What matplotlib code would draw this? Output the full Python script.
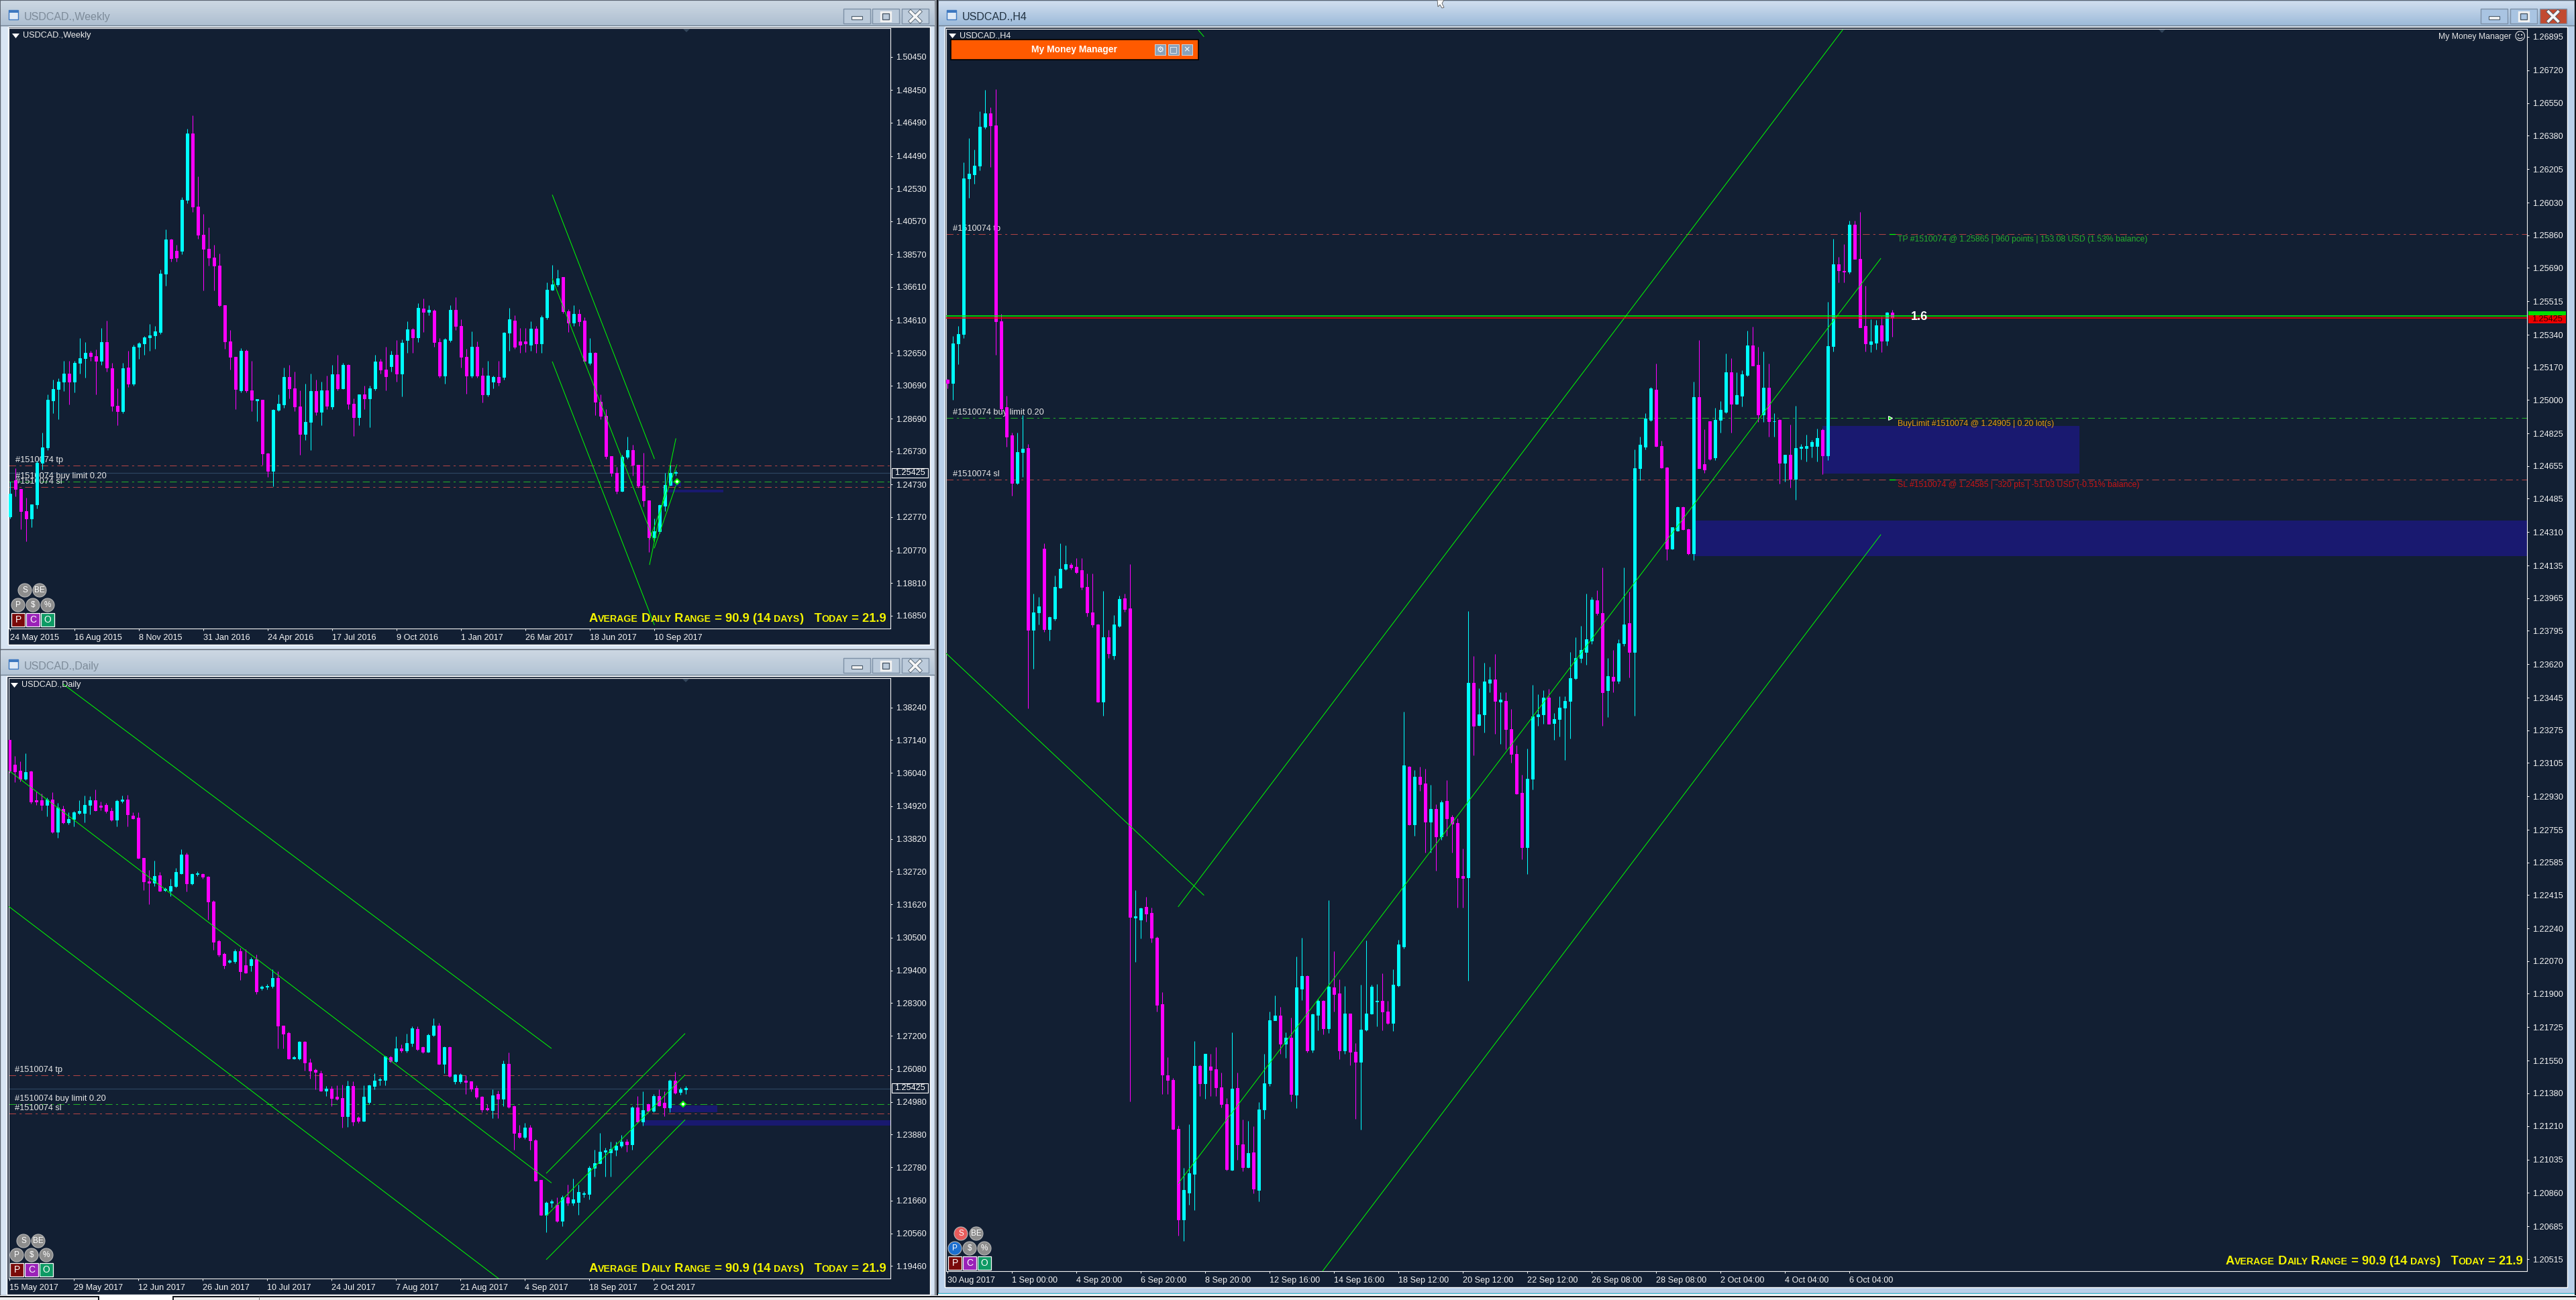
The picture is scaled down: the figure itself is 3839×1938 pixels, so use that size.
import numpy as np
import matplotlib
matplotlib.use("Agg")
import matplotlib.pyplot as plt
from matplotlib.patches import Rectangle, Circle, Polygon

plt.rcParams['font.family'] = ['Liberation Sans', 'DejaVu Sans']

W, H = 3839, 1938
BG = '#121f33'
UP = '#00ffff'
DOWN = '#ff00ff'
PANEL_GREEN = '#00ff00'

# prices of the open order, same on all three charts
TP = 1.25865
BUY = 1.24905
SL = 1.24585
LAST = 1.25427
BID = 1.25439

# H4 candles, in 0.00001
h4_open = [125104,125089,125294,125343,126156,126178,126221,126426,126495,126433,125412,124961,124814,124568,124727,124749,123800,123889,124224,123804,123860,124019,124117,124140,124129,124111,124023,123889,123827,123426,123760,123668,123822,123965,123912,122296,122287,122353,122322,122194,121846,121475,121451,121195,120720,120860,120959,121524,121431,121519,121506,121411,121325,120981,121409,121113,120994,121071,120877,121296,121431,121762,121786,121638,121671,121374,121925,121991,121607,121791,121864,121720,121934,121901,121605,121797,121598,121543,121713,121797,121860,121864,121808,121746,121943,122146,123086,122784,123033,122997,122799,122865,122720,122905,122823,122790,122514,122508,123523,123302,123357,123523,123540,123426,123430,123282,123150,122949,122664,123022,123348,123357,123445,123313,123333,123392,123430,123549,123651,123684,123742,123952,123887,123485,123554,123534,123731,123833,123684,124644,124754,124894,125053,124760,124646,124222,124318,124441,124325,124200,125015,124664,124888,124698,124894,124937,125144,124981,125022,125129,125283,125182,124925,125064,124888,124894,124671,124713,124586,124747,124750,124758,124760,124843,124709,125281,125709,125674,125670,125915,125736,125386,125291,125299,125389,125310,125456]
h4_high = [125110,125334,125385,126239,126366,126305,126506,126618,126529,126623,125450,125022,124830,124830,124921,124770,123988,123972,124251,123870,124084,124251,124240,124150,124173,124173,124095,124095,123830,124001,123800,123876,123979,123988,124144,122441,122350,122406,122349,122200,121907,121570,121460,121212,120992,121219,121654,121530,121585,121585,121620,121490,121355,121698,121490,121245,121237,121210,121334,121585,121808,121890,121830,121698,121775,122095,122194,121996,121797,121875,121868,122389,122124,121974,121940,121797,121643,121947,122177,121947,121952,122007,121864,122029,122181,123373,123090,123066,123086,123073,122989,122889,122911,123015,122834,122817,122658,123898,123662,123496,123629,123607,123673,123474,123474,123386,123198,123044,123181,123512,123463,123485,123492,123364,123452,123452,123684,123760,123822,123990,123972,124007,124126,123651,123695,123749,124126,124000,124742,124809,124932,125066,125189,124787,124650,124336,124445,124445,124330,125095,125312,124845,124890,124959,124993,125242,125216,125144,125155,125363,125381,125278,125252,125189,124932,124900,124713,124872,124970,124770,124820,124790,124850,124850,125513,125841,125747,125814,125937,125937,125982,125595,125421,125418,125436,125459,125470]
h4_low = [125060,125000,125185,125323,126053,126127,126198,126417,126216,125234,124940,124754,124501,124560,124597,123390,123595,123827,123790,123744,123850,124017,124110,124115,124095,124010,123870,123815,123420,123353,123651,123646,123815,123895,121338,122066,122190,122278,122168,121808,121378,121378,121190,120639,120610,120800,120771,121367,121351,121367,121367,121305,120976,120976,121035,120974,120990,120857,120815,121246,121418,121760,121588,121565,121338,121303,121868,121594,121594,121709,121687,121696,121808,121559,121588,121528,121246,121190,121704,121793,121731,121709,121742,121705,121938,122137,122779,122724,122960,122636,122636,122543,122702,122724,122636,122349,122349,121969,123143,123300,123265,123474,123258,123205,123176,123106,122940,122603,122525,122967,123298,123309,123309,123227,123242,123121,123232,123540,123629,123618,123727,123875,123298,123346,123474,123518,123716,123551,123353,124582,124742,124887,124755,124642,124162,124218,124316,124320,124190,124162,124642,124620,124687,124687,124830,124932,124830,124977,124965,125122,125178,124885,124885,124809,124809,124564,124575,124541,124479,124690,124680,124700,124680,124613,124687,125252,125613,125613,125658,125736,125379,125252,125249,125264,125249,125284,125331]
h4_close = [125089,125294,125343,126156,126180,126221,126426,126495,126433,125412,124954,124809,124568,124727,124745,123800,123889,123921,123804,123865,124023,124117,124144,124125,124100,124023,123889,123827,123426,123760,123677,123827,123961,123907,122300,122304,122347,122318,122194,121841,121477,121451,121195,120720,120875,120963,121524,121431,121585,121501,121413,121325,120985,121404,121113,120994,121069,120881,121296,121433,121762,121786,121638,121671,121378,121934,121991,121603,121793,121864,121720,121936,121897,121605,121797,121598,121543,121713,121797,121938,121864,121808,121746,121947,122157,123092,122784,123033,122993,122799,122865,122720,122900,122817,122786,122508,122505,123523,123300,123357,123529,123540,123430,123437,123282,123150,122945,122664,123022,123348,123357,123445,123309,123335,123392,123430,123549,123651,123695,123750,123956,123887,123474,123558,123534,123731,123827,123684,124644,124765,124903,125059,124760,124646,124222,124336,124441,124325,124200,125015,124642,124638,124693,124894,124948,125144,124981,125024,125133,125283,125178,124925,125064,124888,124890,124671,124713,124586,124747,124757,124760,124780,124800,124709,125281,125709,125676,125670,125915,125736,125379,125294,125304,125389,125310,125456,125428]

# weekly candles, in 0.0001
w_open = [12280,12499,12447,12312,12267,12354,12604,12696,12978,13046,13091,13141,13091,13203,13235,13265,13245,13215,13328,13173,12946,12916,13178,13078,13300,13323,13360,13370,13390,13740,13947,13877,13877,14184,14583,14146,13977,13889,13840,13790,13552,13333,13240,13041,13278,13041,12978,12983,12661,12554,12923,12953,13121,13053,12941,12779,12849,13036,12911,13041,12941,13136,13053,13191,12958,12879,13016,12991,13053,13211,13166,13186,13253,13141,13340,13405,13360,13530,13510,13520,13328,13128,13340,13522,13428,13240,13128,13303,13128,13016,13091,13121,13121,13385,13460,13335,13335,13315,13410,13320,13478,13645,13677,13720,13515,13445,13498,13460,13203,13265,12971,12886,12646,12542,12434,12641,12679,12591,12467,12379,12155,12192,12347,12472,12542]
w_high = [12492,12571,12447,12392,12354,12616,12784,13016,13103,13111,13215,13215,13215,13353,13328,13278,13285,13415,13458,13203,13053,13203,13278,13315,13328,13365,13440,13428,13765,14007,13952,13914,14201,14613,14693,14326,14102,14019,13914,13864,13552,13403,13240,13295,13285,13215,12986,12983,12666,12928,13016,13178,13191,13153,13041,13078,13141,13103,13091,13128,13191,13253,13203,13196,12991,13016,13066,13066,13253,13228,13303,13278,13340,13345,13453,13415,13565,13590,13552,13527,13353,13353,13552,13600,13465,13290,13395,13335,13178,13215,13128,13215,13390,13535,13490,13415,13415,13453,13428,13490,13690,13795,13765,13720,13527,13552,13527,13478,13353,13270,13016,12928,12646,12579,12654,12761,12711,12591,12666,12379,12267,12354,12542,12591,12559]
w_low = [12267,12404,12205,12130,12217,12329,12562,12679,12904,12866,13036,12953,13028,13141,13116,13215,13016,13191,13153,12916,12829,12903,13061,13066,13228,13253,13278,13290,13378,13670,13815,13815,13860,14164,14114,13952,13640,13790,13640,13545,13290,13166,12928,13028,13028,12916,12854,12591,12517,12462,12916,12936,12991,12916,12654,12741,12679,12891,12829,12928,12928,13041,13046,12928,12766,12829,12928,12816,13041,13141,13041,13153,13091,13003,13265,13265,13328,13390,13490,13303,13116,13078,13328,13403,13178,13021,13116,13116,12966,13003,13053,13066,13103,13278,13290,13265,13270,13278,13265,13265,13465,13640,13665,13503,13390,13428,13428,13203,13191,12891,12866,12629,12522,12417,12429,12629,12529,12454,12342,12067,12142,12180,12312,12467,12529]
w_close = [12417,12447,12312,12267,12354,12604,12696,12983,13046,13091,13141,13091,13203,13233,13265,13245,13215,13328,13178,12946,12916,13173,13078,13303,13323,13360,13370,13395,13740,13947,13835,13840,14184,14583,14146,13977,13889,13840,13790,13552,13333,13240,13048,13278,13041,12983,12986,12661,12554,12923,12958,13121,13053,12941,12779,12849,13036,12911,13041,12946,13136,13053,13191,12958,12879,13016,12991,13053,13211,13166,13123,13253,13141,13325,13405,13360,13535,13510,13522,13328,13128,13345,13522,13428,13240,13128,13303,13128,13016,13128,13121,13086,13385,13465,13303,13315,13320,13410,13320,13478,13645,13677,13715,13515,13445,13498,13453,13215,13265,12971,12886,12646,12542,12434,12641,12679,12591,12467,12379,12155,12192,12349,12472,12542,12547]

# daily candles, in 0.0001
d_open = [13715,13632,13611,13583,13608,13511,13511,13495,13514,13406,13483,13437,13448,13469,13469,13495,13511,13493,13495,13476,13447,13509,13514,13461,13454,13319,13238,13235,13259,13210,13207,13224,13267,13330,13232,13263,13263,13255,13172,13039,12996,12968,12971,13005,12957,12957,12978,12880,12884,12887,12915,12755,12730,12644,12644,12699,12630,12606,12595,12535,12542,12514,12511,12449,12550,12446,12433,12497,12550,12571,12571,12648,12634,12678,12671,12695,12742,12681,12667,12723,12755,12626,12681,12567,12567,12570,12567,12545,12514,12476,12469,12523,12509,12625,12484,12393,12379,12411,12369,12236,12119,12159,12152,12098,12177,12159,12160,12188,12187,12277,12291,12330,12328,12337,12351,12365,12355,12478,12432,12490,12467,12517,12495,12478,12570,12531,12539]
d_high = [13715,13660,13642,13670,13611,13541,13534,13521,13539,13502,13493,13472,13475,13511,13527,13525,13548,13507,13502,13486,13514,13527,13530,13472,13472,13319,13277,13308,13270,13218,13249,13284,13347,13337,13266,13273,13267,13256,13175,13042,12999,12978,13012,13015,13012,12985,12992,12890,12894,12943,12936,12755,12734,12653,12702,12702,12644,12609,12602,12550,12550,12553,12556,12570,12567,12449,12553,12556,12595,12581,12653,12653,12717,12692,12727,12751,12751,12685,12727,12779,12762,12685,12685,12592,12595,12588,12567,12553,12518,12490,12539,12536,12637,12664,12486,12421,12428,12421,12372,12236,12163,12170,12177,12184,12219,12240,12219,12198,12282,12337,12393,12344,12365,12365,12386,12372,12484,12518,12532,12493,12525,12539,12532,12574,12598,12546,12550]
d_low = [13604,13572,13575,13580,13500,13497,13479,13458,13402,13385,13433,13430,13423,13465,13437,13465,13475,13479,13469,13441,13423,13502,13423,13448,13315,13210,13163,13224,13205,13205,13189,13218,13263,13205,13228,13256,13249,13110,13010,12987,12946,12964,12964,12908,12929,12936,12859,12873,12876,12880,12678,12678,12641,12641,12639,12602,12577,12539,12532,12518,12484,12504,12411,12414,12418,12428,12431,12490,12539,12553,12553,12630,12630,12664,12664,12685,12671,12662,12664,12717,12623,12595,12581,12557,12560,12525,12532,12508,12463,12467,12442,12442,12484,12476,12337,12375,12372,12337,12230,12115,12059,12142,12094,12080,12149,12149,12119,12177,12170,12247,12289,12247,12247,12316,12344,12330,12337,12428,12417,12463,12463,12484,12449,12463,12525,12522,12525]
d_close = [13611,13608,13583,13607,13507,13507,13495,13514,13406,13486,13437,13448,13472,13475,13495,13511,13479,13489,13476,13447,13509,13514,13465,13451,13319,13238,13235,13256,13207,13214,13224,13270,13330,13232,13263,13266,13255,13172,13036,12992,12957,12973,13004,12936,12933,12978,12870,12884,12887,12915,12755,12727,12644,12648,12699,12630,12602,12598,12535,12542,12511,12509,12449,12550,12432,12433,12514,12553,12570,12573,12650,12634,12678,12671,12695,12745,12675,12667,12723,12755,12626,12683,12584,12589,12589,12564,12543,12514,12472,12472,12520,12509,12625,12481,12393,12379,12411,12369,12233,12119,12159,12163,12098,12177,12159,12170,12195,12191,12277,12291,12329,12335,12339,12351,12365,12355,12478,12432,12470,12467,12517,12486,12478,12570,12528,12539,12545]

h4_ticks = [1.26895,1.26720,1.26550,1.26380,1.26205,1.26030,1.25860,1.25690,1.25515,1.25340,1.25170,1.25000,1.24825,1.24655,1.24485,1.24310,1.24135,1.23965,1.23795,1.23620,1.23445,1.23275,1.23105,1.22930,1.22755,1.22585,1.22415,1.22240,1.22070,1.21900,1.21725,1.21550,1.21380,1.21210,1.21035,1.20860,1.20685,1.20515]
w_ticks = [1.50450,1.48450,1.46490,1.44490,1.42530,1.40570,1.38570,1.36610,1.34610,1.32650,1.30690,1.28690,1.26730,1.24730,1.22770,1.20770,1.18810,1.16850]
d_ticks = [1.38240,1.37140,1.36040,1.34920,1.33820,1.32720,1.31620,1.30500,1.29400,1.28300,1.27200,1.26080,1.24980,1.23880,1.22780,1.21660,1.20560,1.19460]

h4_dates = ['30 Aug 2017','1 Sep 00:00','4 Sep 20:00','6 Sep 20:00','8 Sep 20:00','12 Sep 16:00','14 Sep 16:00','18 Sep 12:00','20 Sep 12:00','22 Sep 12:00','26 Sep 08:00','28 Sep 08:00','2 Oct 04:00','4 Oct 04:00','6 Oct 04:00']
w_dates = ['24 May 2015','16 Aug 2015','8 Nov 2015','31 Jan 2016','24 Apr 2016','17 Jul 2016','9 Oct 2016','1 Jan 2017','26 Mar 2017','18 Jun 2017','10 Sep 2017']
d_dates = ['15 May 2017','29 May 2017','12 Jun 2017','26 Jun 2017','10 Jul 2017','24 Jul 2017','7 Aug 2017','21 Aug 2017','4 Sep 2017','18 Sep 2017','2 Oct 2017']

# trend lines: bar index, price
h4_lines = [((43.05,1.22355),(166.8,1.26931)),((43.05,1.20910),(173.9,1.25738)),((69.9,1.20451),(173.9,1.24296)),((-0.2,1.23677),(47.8,1.22415)),((46.8,1.26930),(47.8,1.26897))]
w_lines = [((101,1.4214),(120,1.2629)),((101,1.3710),(120,1.2130)),((101,1.3211),(120,1.1630)),((119.1,1.1992),(124,1.2749)),((119.1,1.2142),(124.2,1.2591)),((120,1.2092),(124,1.2467))]
d_lines = [((9.93,1.3903),(100.9,1.2678)),((-0.1,1.3611),(100.9,1.2226)),((-0.1,1.3154),(91.07,1.1904)),((100,1.2258),(125.8,1.2727)),((100,1.2115),(125.8,1.2588)),((100,1.1968),(125.8,1.2437))]

fig = plt.figure(figsize=(W/100, H/100), dpi=100, facecolor='#b9cfe9')


def px_axes(l, t, r, b, z):
    return fig.add_axes([l/W, 1-b/H, (r-l)/W, (b-t)/H], zorder=z)


bg = px_axes(0, 0, W, H, 0)
top = px_axes(0, 0, W, H, 5)
top.patch.set_alpha(0)
for a in (bg, top):
    a.axis('off')


def gradient(x0, y0, x1, y1, c0, c1):
    c0 = np.array(matplotlib.colors.to_rgb(c0))
    c1 = np.array(matplotlib.colors.to_rgb(c1))
    t = np.linspace(0, 1, 32)[:, None, None]
    img = c0*(1-t) + c1*t
    bg.imshow(img, extent=[x0, x1, y1, y0], aspect='auto', zorder=1)


def window(x0, y0, x1, y1, title, title_col, grad, frame, btn_x, btn_col, px0, py0, px1, py1):
    bg.add_patch(Rectangle((x0, y0), x1-x0, y1-y0, fc=frame, ec='#5c6470', lw=1, zorder=0.5))
    gradient(x0+1, y0+2, x1-1, py0-2, grad[0], grad[1])
    bg.plot([x0+1, x1-1], [py0-2, py0-2], color='#6f7f90', lw=1, zorder=1.5)
    bg.add_patch(Rectangle((px0, py0), px1-px0, py1-py0, fc=BG, ec='white', lw=1, zorder=2))
    bg.text(x0+36, y0+25, title, color=title_col, fontsize=11.5, va='center', zorder=3)
    # little icon
    bg.add_patch(Rectangle((x0+13, y0+15), 14, 14, fc='#dfeaf6', ec='#3d78c0', lw=1, zorder=3))
    bg.add_patch(Rectangle((x0+13, y0+15), 14, 4, fc='#3d78c0', ec='none', zorder=3))
    for i, bx in enumerate(btn_x):
        bg.add_patch(Rectangle((bx, y0+13), 40, 22, fc=btn_col[i], ec='#7d90a6', lw=1, zorder=3))
        cx, cy = bx+20, y0+24.5
        if i == 0:
            bg.add_patch(Rectangle((cx-8, cy-1), 16, 5, fc='#f2f2f2', ec='#4a5a6a', lw=0.8, zorder=4))
        elif i == 1:
            bg.add_patch(Rectangle((cx-7, cy-7), 14, 13, fc='none', ec='#f2f2f2', lw=2.4, zorder=4))
            bg.add_patch(Rectangle((cx-5, cy-5), 10, 9, fc='none', ec='#4a5a6a', lw=1, zorder=4.5))
        else:
            bg.plot([cx-7, cx+7], [cy-7, cy+7], color='#4a5a6a', lw=4, zorder=4)
            bg.plot([cx-7, cx+7], [cy+7, cy-7], color='#4a5a6a', lw=4, zorder=4)
            bg.plot([cx-7, cx+7], [cy-7, cy+7], color='#f6f6f6', lw=2.8, zorder=4.5)
            bg.plot([cx-7, cx+7], [cy+7, cy-7], color='#f6f6f6', lw=2.8, zorder=4.5)


GRAY_BTN = ('#bccbdb', '#bccbdb', '#bccbdb')
BLUE_BTN = ('#a9c4e2', '#a9c4e2', '#c24a30')
window(0, 0, 1393, 968, 'USDCAD.,Weekly', '#7d8b99', ('#ccd7e2', '#aebfd1'), '#d8e5f3', (1257, 1300, 1344), GRAY_BTN, 12, 40, 1386, 961)
window(0, 968, 1393, 1931, 'USDCAD.,Daily', '#7d8b99', ('#ccd7e2', '#b3c4d5'), '#d8e5f3', (1257, 1300, 1344), GRAY_BTN, 10, 1008, 1386, 1930)
window(1398, 0, 3837, 1928, 'USDCAD.,H4', '#20303f', ('#cfdeee', '#9dbada'), '#b9d0ea', (3697, 3741, 3785), BLUE_BTN, 1408, 40, 3826, 1919)

# dark gap between the windows
bg.add_patch(Rectangle((1393, 0), 3, 1932, fc='#8a9098', ec='none', zorder=3))
bg.add_patch(Rectangle((1396, 0), 2, 1932, fc='#10141a', ec='none', zorder=3))
bg.add_patch(Rectangle((3837, 0), 2, 1932, fc='#10141a', ec='none', zorder=3))
# tabs along the bottom
bg.add_patch(Rectangle((0, 1931), W, 7, fc='#efefef', ec='none', zorder=3))
bg.add_patch(Rectangle((1398, 1928), 2439, 1, fc='#35c0d8', ec='none', zorder=3))
bg.add_patch(Rectangle((1398, 1929), 2439, 2.5, fc='#f6f6f6', ec='none', zorder=3))
bg.add_patch(Rectangle((0, 1932), W, 1.5, fc='#10141a', ec='none', zorder=3.5))
bg.add_patch(Rectangle((147, 1931), 110, 7, fc='#ffffff', ec='none', zorder=3.6))
bg.add_patch(Rectangle((146, 1932), 1.5, 6, fc='#10141a', ec='none', zorder=3.7))
bg.add_patch(Rectangle((257, 1932), 1.5, 6, fc='#10141a', ec='none', zorder=3.7))
bg.add_patch(Rectangle((386, 1933), 1, 5, fc='#777777', ec='none', zorder=3.7))


def chart(box, x0, ylim, o, h, l, c, scale, ticks, dates, lines, zorder=1):
    left, top_y, right, bottom = box
    ax = px_axes(left, top_y, right, bottom, zorder)
    ax.set_facecolor(BG)
    o, h, l, c = [np.array(v)/scale for v in (o, h, l, c)]
    x = np.arange(len(o))
    up = c >= o
    cols = np.where(up, UP, DOWN)
    ax.vlines(x, l, h, colors=cols, lw=0.75, zorder=3)
    ax.bar(x, np.abs(c-o), bottom=np.minimum(o, c), width=0.5, color=cols, edgecolor=cols, lw=0.7, zorder=4)
    for (a, b) in lines:
        ax.plot([a[0], b[0]], [a[1], b[1]], color=PANEL_GREEN, lw=0.72, zorder=5)
    ax.set_xlim((left-x0)/8, (right-x0)/8)
    ax.set_ylim(*ylim)
    ax.yaxis.tick_right()
    ax.set_yticks(ticks)
    ax.set_yticklabels([f'{v:.5f}' for v in ticks])
    ax.set_xticks(np.arange(len(dates))*12)
    ax.set_xticklabels(dates, ha='left')
    ax.tick_params(colors='#f4f4f4', labelsize=9.1, length=2.5, width=0.75, pad=3)
    for s in ax.spines.values():
        s.set_color('#f4f4f4')
        s.set_linewidth(0.8)
    return ax


# Weekly
w_ax = chart((13, 42, 1327, 937), 15.2, (1.16073, 1.52177), w_open, w_high, w_low, w_close, 1e4, w_ticks, w_dates, w_lines)
# Daily
d_ax = chart((12.5, 1011, 1327, 1906), 14.3, (1.19038, 1.39223), d_open, d_high, d_low, d_close, 1e4, d_ticks, d_dates, d_lines)
# H4
h_ax = chart((1410, 43, 3766, 1895), 1411.6, (1.20452, 1.26937), h4_open, h4_high, h4_low, h4_close, 1e5, h4_ticks, h4_dates, h4_lines)

DASH = (0, (10, 5, 3, 5))
NAVY_RECT = '#191970'
RED_LINE = '#b04444'
GREEN_LINE = '#22b02a'

for ax, last_col in ((w_ax, '#2c4560'), (d_ax, '#2c4560'), (h_ax, None)):
    ax.axhline(TP, color=RED_LINE, lw=0.75, ls=DASH, zorder=2)
    ax.axhline(BUY, color=GREEN_LINE, lw=0.75, ls=DASH, zorder=2)
    ax.axhline(SL, color=RED_LINE, lw=0.75, ls=DASH, zorder=2)
    if last_col:
        ax.axhline(LAST, color=last_col, lw=0.9, zorder=2)

# order boxes
h_ax.add_patch(Rectangle((163, 1.24615), 47.9, 1.24863-1.24615, fc=NAVY_RECT, ec='none', zorder=1))
h_ax.add_patch(Rectangle((139, 1.24186), 300, 1.24369-1.24186, fc=NAVY_RECT, ec='none', zorder=1))
w_ax.add_patch(Rectangle((122.5, 1.2425), 10.4, 0.0017, fc=NAVY_RECT, ec='none', zorder=1))
w_ax.add_patch(Rectangle((123, 1.2462), 2, 0.0024, fc=NAVY_RECT, ec='none', zorder=1))
d_ax.add_patch(Rectangle((123, 1.2463), 8.8, 0.0023, fc=NAVY_RECT, ec='none', zorder=1))
d_ax.add_patch(Rectangle((118.2, 1.2419), 60, 0.0018, fc=NAVY_RECT, ec='none', zorder=1))

h_ax.axhline(BID, color='#00ff00', lw=1.1, zorder=6)
h_ax.axhline(LAST, color='#ff0000', lw=1.1, zorder=6)

LBL = '#e6e6e6'
# labels over the order lines
for ax, off in ((h_ax, 0.00007), (w_ax, 0.0009), (d_ax, 0.0005)):
    ax.text(1, TP+off, '#1510074 tp', color=LBL, fontsize=9.2, zorder=2, va='bottom')
    ax.text(1, BUY+off, '#1510074 buy limit 0.20', color=LBL, fontsize=9.2, zorder=2, va='bottom')
    ax.text(1, SL+off, '#1510074 sl', color=LBL, fontsize=9.2, zorder=2, va='bottom')

h_ax.text(177.0, TP-0.00008, 'TP #1510074 @ 1.25865 | 960 points | 153.08 USD (1.53% balance)', color='#27b02c', fontsize=8.8, va='top', zorder=7)
h_ax.text(177.0, BUY-0.00008, 'BuyLimit #1510074 @ 1.24905 | 0.20 lot(s)', color='#e89a10', fontsize=8.8, va='top', zorder=7)
h_ax.text(177.0, SL-0.00008, 'SL #1510074 @ 1.24585 | -320 pts | -51.03 USD (-0.51% balance)', color='#cc1414', fontsize=8.8, va='top', zorder=7)
h_ax.text(179.5, 1.25432, '1.6', color='white', fontsize=13, fontweight='bold', va='center', zorder=7)
h_ax.plot([175.7], [BUY], marker='>', ms=5, mfc='#00ff00', mec='white', mew=0.8, zorder=7)
h_ax.plot([175.6, 176.5], [TP, TP], color=PANEL_GREEN, lw=0.9, zorder=7)
h_ax.plot([175.6, 176.5], [SL, SL], color=PANEL_GREEN, lw=0.9, zorder=7)
w_ax.plot([124.2], [BUY], marker='D', ms=4, mfc='white', mec=PANEL_GREEN, mew=1.4, zorder=7)
d_ax.plot([125.5], [BUY], marker='D', ms=4, mfc='white', mec=PANEL_GREEN, mew=1.4, zorder=7)


def pane_title(x, y, name):
    top.add_patch(Polygon([[x, y-3], [x+11, y-3], [x+5.5, y+4]], fc='white', ec='none'))
    top.text(x+16, y, name, color='#eeeeee', fontsize=9.1, va='center')


pane_title(18, 53, 'USDCAD.,Weekly')
pane_title(16, 1021, 'USDCAD.,Daily')
pane_title(1414, 53, 'USDCAD.,H4')

# last price boxes on the axis
top.add_patch(Rectangle((1329, 697.5), 54, 14, fc=BG, ec='white', lw=0.8, zorder=2))
top.text(1356, 704.5, '1.25425', color='white', fontsize=9.1, ha='center', va='center', zorder=3)
top.add_patch(Rectangle((1329, 1615), 54, 14, fc=BG, ec='white', lw=0.8, zorder=2))
top.text(1356, 1622, '1.25425', color='white', fontsize=9.1, ha='center', va='center', zorder=3)
top.add_patch(Rectangle((3768, 464), 56, 7, fc='#00e000', ec='none', zorder=2))
top.add_patch(Rectangle((3768, 470), 56, 12, fc='#f00000', ec='none', zorder=2))
top.text(3796, 476, '1.25425', color='#300000', fontsize=9.1, ha='center', va='center', zorder=3)

# money manager panel
top.add_patch(Rectangle((1417, 59), 369, 30, fc='#ff5a00', ec='black', lw=1.2))
top.text(1601, 74, 'My Money Manager', color='white', fontsize=10, fontweight='bold', ha='center', va='center')
for bx, ch in ((1729, '⚙'), (1749, '□'), (1769, '×')):
    top.add_patch(Rectangle((bx-8, 66), 16, 16, fc='#8aa2ba', ec='#d0d8e0', lw=0.7))
    top.text(bx, 74, ch, color='white', fontsize=9, ha='center', va='center', family='DejaVu Sans')
top.text(3742, 55, 'My Money Manager', color='#e6e6e6', fontsize=8.8, ha='right', va='center')
top.text(3755, 55, '☺', color='#e6e6e6', fontsize=12, ha='center', va='center', family='DejaVu Sans')

# small triangle marks on top
for tx, ty in ((1023, 43), (1022, 1012), (3222, 44)):
    top.add_patch(Polygon([[tx-5, ty], [tx+5, ty], [tx, ty+5]], fc='#33465c', ec='none'))
# mouse pointer
top.add_patch(Polygon([[2142, 0], [2152, 0], [2149, 5], [2152, 11], [2149, 12], [2146, 7], [2143, 10]], fc='white', ec='#555555', lw=0.6))


def round_btn(cx, cy, txt, fc):
    top.add_patch(Circle((cx, cy), 10, fc=fc, ec='#b8b8b8', lw=0.8))
    top.text(cx, cy, txt, color='white', fontsize=8.5, ha='center', va='center')


def square_btn(cx, cy, txt, fc):
    top.add_patch(Rectangle((cx-10, cy-10), 20, 20, fc=fc, ec='white', lw=0.9))
    top.text(cx, cy, txt, color='white', fontsize=10, ha='center', va='center')


def btn_group(xs, ys, s_col, p_col):
    round_btn(xs[0], ys[0], 'S', s_col)
    round_btn(xs[1], ys[0], 'BE', '#8d8d8d')
    round_btn(xs[2], ys[1], 'P', p_col)
    round_btn(xs[3], ys[1], '$', '#8d8d8d')
    round_btn(xs[4], ys[1], '%', '#8d8d8d')
    square_btn(xs[2], ys[2], 'P', '#7a0a0a')
    square_btn(xs[3], ys[2], 'C', '#9a22b8')
    square_btn(xs[4], ys[2], 'O', '#0e9a64')


btn_group((37, 59, 27, 49, 71), (880, 902, 924), '#8d8d8d', '#8d8d8d')
btn_group((35, 57, 25, 47, 69), (1850, 1871, 1893), '#8d8d8d', '#8d8d8d')
btn_group((1432, 1455, 1423, 1445, 1467), (1839, 1861, 1883), '#e85c5c', '#1c6fd0')


def small_caps(x_right, y, s, big=13.2, small=10.2):
    # draws capitals big and the other letters as small capitals, from the right edge
    runs = []
    for ch in s:
        low = ch.islower()
        if runs and runs[-1][1] == low:
            runs[-1][0] += ch
        else:
            runs.append([ch, low])
    rend = fig.canvas.get_renderer()
    x = x_right
    for txt, low in reversed(runs):
        t = top.text(x, y, txt.upper(), color='#f5f500', fontsize=small if low else big, fontweight='bold', ha='right', va='baseline')
        x -= t.get_window_extent(rend).width


for xr, yb in ((1321, 927), (1321, 1896), (3760, 1885)):
    small_caps(xr, yb, 'Average Daily Range = 90.9 (14 days)   Today = 21.9')

for a in (bg, top):
    a.set_xlim(0, W)
    a.set_ylim(H, 0)

fig.savefig('out.png', dpi=100, facecolor=fig.get_facecolor())
